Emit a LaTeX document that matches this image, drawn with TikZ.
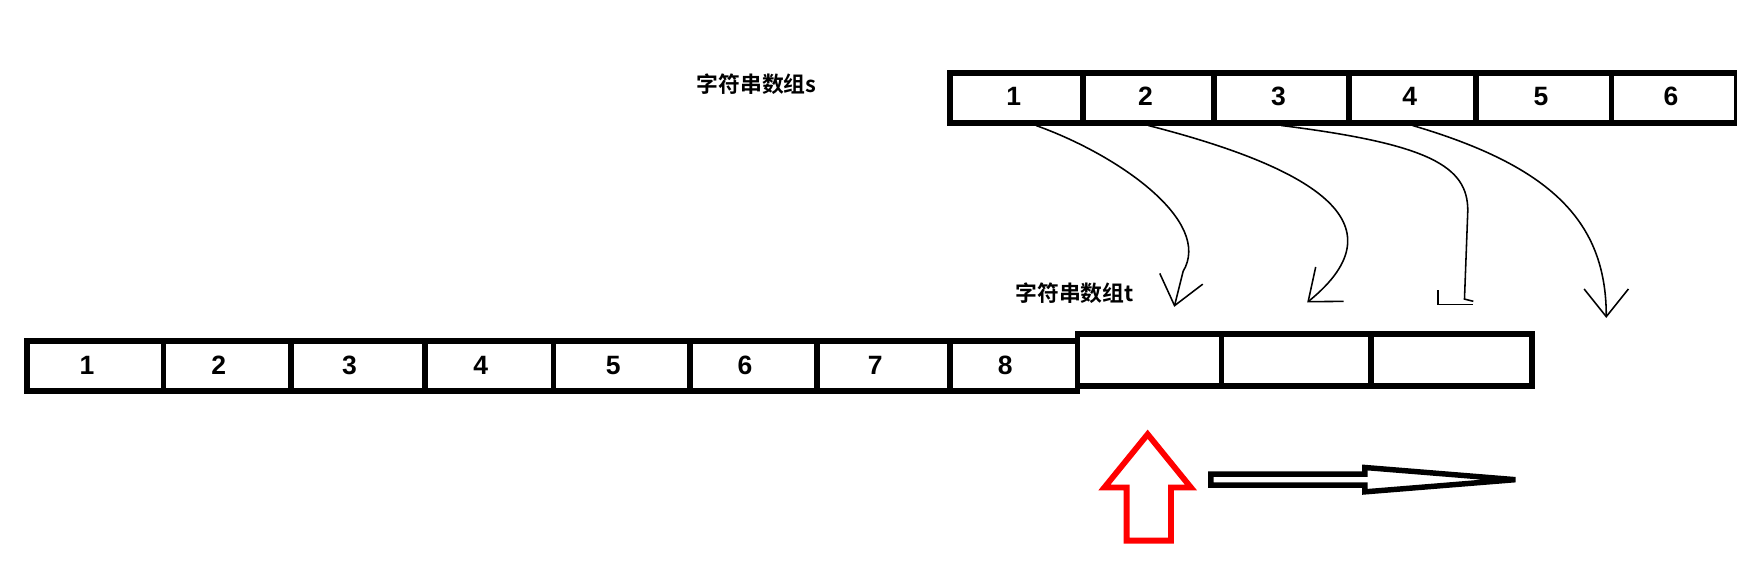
\documentclass[tikz,border=0pt]{standalone}
\usepackage{fontspec}
\setsansfont{Liberation Sans}
\newfontfamily\cjk{Noto Sans CJK SC}[BoldFont={Noto Sans CJK SC Bold}]
\usetikzlibrary{arrows.meta}
\begin{document}
\begin{tikzpicture}[x=0.01cm,y=-0.01cm,
  cell/.style={draw,line width=1.5pt,inner sep=0,anchor=north west},
  num/.style={font=\fontsize{6.8}{8}\selectfont\bfseries\sffamily},
  lbl/.style={font=\cjk\bfseries\fontsize{5.6}{7}\selectfont},
  hand/.style={line width=0.4pt,-{Straight Barb[length=2.5mm,width=4mm]}}]
% top array s
\foreach \a/\b/\n [count=\i] in {855/975/1,975/1093/2,1093/1215/3,1215/1330/4,1330/1452/5,1452/1565/6}{
  \node[cell,minimum width=(\b-\a)*0.01cm,minimum height=0.45cm] (s\i) at (\a,63) {};
  \node[num] at ({(\a+\b)/2},87) {\n};
}
% bottom array t
\foreach \a/\b/\n [count=\i] in {22/145/1,145/260/2,260/381/3,381/497/4,497/620/5,620/735/6,735/855/7,855/970/8}{
  \node[cell,minimum width=(\b-\a)*0.01cm,minimum height=0.45cm] (t\i) at (\a,305) {};
  \node[num] at ({(\a+\b)/2-5},330) {\n};
}
\foreach \a/\b [count=\i from 9] in {970/1100,1100/1235,1235/1380}{
  \node[cell,minimum width=(\b-\a)*0.01cm,minimum height=0.47cm] (t\i) at (\a,299) {};
}
\node[lbl] (ls) at (683,76) {字符串数组s};
\node[lbl] (lt) at (970,265) {字符串数组t};
% hand-drawn arrows
\coordinate (e1) at (1060,277);
\coordinate (e2) at (1180,273);
\coordinate (e4) at (1450,287);
\draw[hand] ([xshift=5pt]s1.south) .. controls (1010,140) and (1095,200) .. (1068,245) -- (e1);
\draw[hand] (s2.south) .. controls (1180,150) and (1270,200) .. (e2);
\draw[line width=0.4pt] (s3.south) .. controls (1290,130) and (1325,150) .. (1325,190) -- (1322,270) -- (1330,272);
\draw[line width=0.4pt] (1298,262) -- (1298,275) -- (1330,275);
\draw[hand] (s4.south) .. controls (1400,150) and (1450,200) .. (e4);
% red up arrow
\draw[red,line width=1.5pt] (1017,488) -- (1017,440) -- (997,440) -- (1036,392) -- (1075,440) -- (1057,440) -- (1057,488) -- cycle;
% right arrow
\draw[line width=1.4pt] (1093,428) -- (1232,428) -- (1232,422) -- (1368,433) -- (1232,444) -- (1232,438) -- (1093,438) -- cycle;
\pgfresetboundingbox
\useasboundingbox (0,0) rectangle (1568,506);
\end{tikzpicture}
\end{document}
